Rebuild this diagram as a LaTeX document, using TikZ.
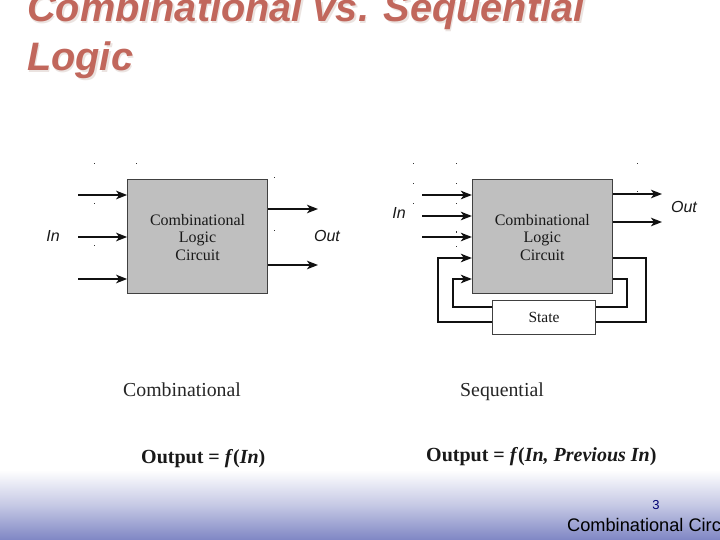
\documentclass[tikz,border=0pt]{standalone}
\usepackage{fontspec}
\setmainfont{Liberation Serif}
\setsansfont{Liberation Sans}
\usetikzlibrary{arrows.meta,calc}
\definecolor{titlered}{HTML}{C1675C}
\definecolor{titleshadow}{HTML}{EBE3E0}
\definecolor{footblue}{HTML}{7F86C4}
\definecolor{boxgray}{HTML}{BFBFBF}
\definecolor{wiredark}{HTML}{111111}
\tikzset{
  x=1pt,y=-1pt,
  logicbox/.style={draw=black!75,line width=0.9pt,fill=boxgray,minimum width=140pt,minimum height=114pt,inner sep=0pt,align=center,font=\fontsize{16}{17.6}\selectfont,text=black!90},
  statebox/.style={draw=black!75,line width=0.9pt,fill=white,minimum width=103pt,minimum height=34pt,inner sep=0pt,font=\fontsize{15.5}{17}\selectfont,text=black!90},
  wire/.style={line width=1.9pt,draw=wiredark,line join=miter},
  arrowwire/.style={wire,-{Stealth[length=11pt,width=8.5pt,inset=3pt]}},
  iolabel/.style={font=\sffamily\itshape\fontsize{16}{18}\selectfont,text=black!90,inner sep=0pt},
  caption/.style={font=\fontsize{19.8}{22}\selectfont,text=black!85,inner sep=0pt,anchor=base west},
  formula/.style={font=\bfseries\fontsize{20}{22}\selectfont,text=black!90,inner sep=0pt,anchor=base west},
  titletext/.style={font=\sffamily\bfseries\itshape\fontsize{39.7}{44}\selectfont,inner sep=0pt,anchor=base west},
  speck/.style={fill=black!80,inner sep=0pt,minimum size=1pt,shape=rectangle},
}
\begin{document}
\begin{tikzpicture}
\useasboundingbox (0,0) rectangle (720,540);
\fill[white] (0,0) rectangle (720,540);
\shade[top color=white,bottom color=footblue,middle color=footblue!45] (0,470) rectangle (720,540);
% title
\node[titletext,text=titleshadow] (t1s) at (28.5,23.5) {Combinational vs. Sequential};
\node[titletext,text=titleshadow] (t2s) at (28.5,72.5) {Logic};
\node[titletext,text=titlered] (t1) at (27,22) {Combinational vs. Sequential};
\node[titletext,text=titlered] (t2) at (27,71) {Logic};
% left circuit
\node[logicbox] (lbox) at (197.6,236.5) {\parbox{100pt}{\centering\vspace{2pt}Combinational\\Logic\\Circuit}};
\coordinate (li1) at (78,195);
\coordinate (li2) at (78,237);
\coordinate (li3) at (78,279);
\coordinate (lo1) at (318,209);
\coordinate (lo2) at (318,265);
\foreach \c in {li1,li2,li3} \draw[arrowwire] (\c) -- (\c -| lbox.west);
\foreach \c in {lo1,lo2} \draw[arrowwire] (\c -| lbox.east) -- (\c);
\node[iolabel] (lin) at (53,236) {In};
\node[iolabel] (lout) at (327,236) {Out};
% right circuit
\node[logicbox] (rbox) at (542.3,236.5) {\parbox{100pt}{\centering\vspace{2pt}Combinational\\Logic\\Circuit}};
\node[statebox] (state) at (544,317) {State\hspace{3.5pt}};
\coordinate (ri1) at (422,195);
\coordinate (ri2) at (422,216);
\coordinate (ri3) at (422,237);
\coordinate (ro1) at (662,194);
\coordinate (ro2) at (662,222);
\foreach \c in {ri1,ri2,ri3} \draw[arrowwire] (\c) -- (\c -| rbox.west);
\foreach \c in {ro1,ro2} \draw[arrowwire] (\c -| rbox.east) -- (\c);
\coordinate (oy) at (0,258);
\coordinate (iy) at (0,279);
\coordinate (oyb) at (0,322);
\coordinate (iyb) at (0,307);
\draw[arrowwire] (oyb -| state.west) -- (438,322) -- (438,258) -- (oy -| rbox.west);
\draw[arrowwire] (iyb -| state.west) -- (453,307) -- (453,279) -- (iy -| rbox.west);
\draw[wire] (oy -| rbox.east) -- (646,258) -- (646,322) -- (oyb -| state.east);
\draw[wire] (iy -| rbox.east) -- (627,279) -- (627,307) -- (iyb -| state.east);
\node[iolabel] (rin) at (399,212.5) {In};
\node[iolabel] (rout) at (684,207) {Out};
% specks
\foreach \p [count=\i] in {(94,164),(136,164),(274,178),(94,204),(94,245),(274,231),(413,164),(456,164),(637,164),(413,184),(456,184),(413,204),(456,204),(637,192),(456,232),(456,246)}
  \node[speck] (sp\i) at \p {};
% captions
\node[caption] (c1) at (123,396) {Combinational};
\node[caption] (c2) at (460,396) {Sequential};
\node[formula] (f1) at (141,463) {Output = \textit{f}(\textit{In})};
\node[formula] (f2) at (426,461) {Output = \textit{f}(\textit{In, Previous In})};
% footer
\node[inner sep=0pt,anchor=base,text=blue!45!black,font=\sffamily\fontsize{13}{15}\selectfont] (pg) at (656,509) {3};
\node[inner sep=0pt,anchor=base west,text=black,font=\sffamily\fontsize{18.2}{20}\selectfont] (ft) at (567,531) {Combinational Circ};
\end{tikzpicture}
\end{document}
